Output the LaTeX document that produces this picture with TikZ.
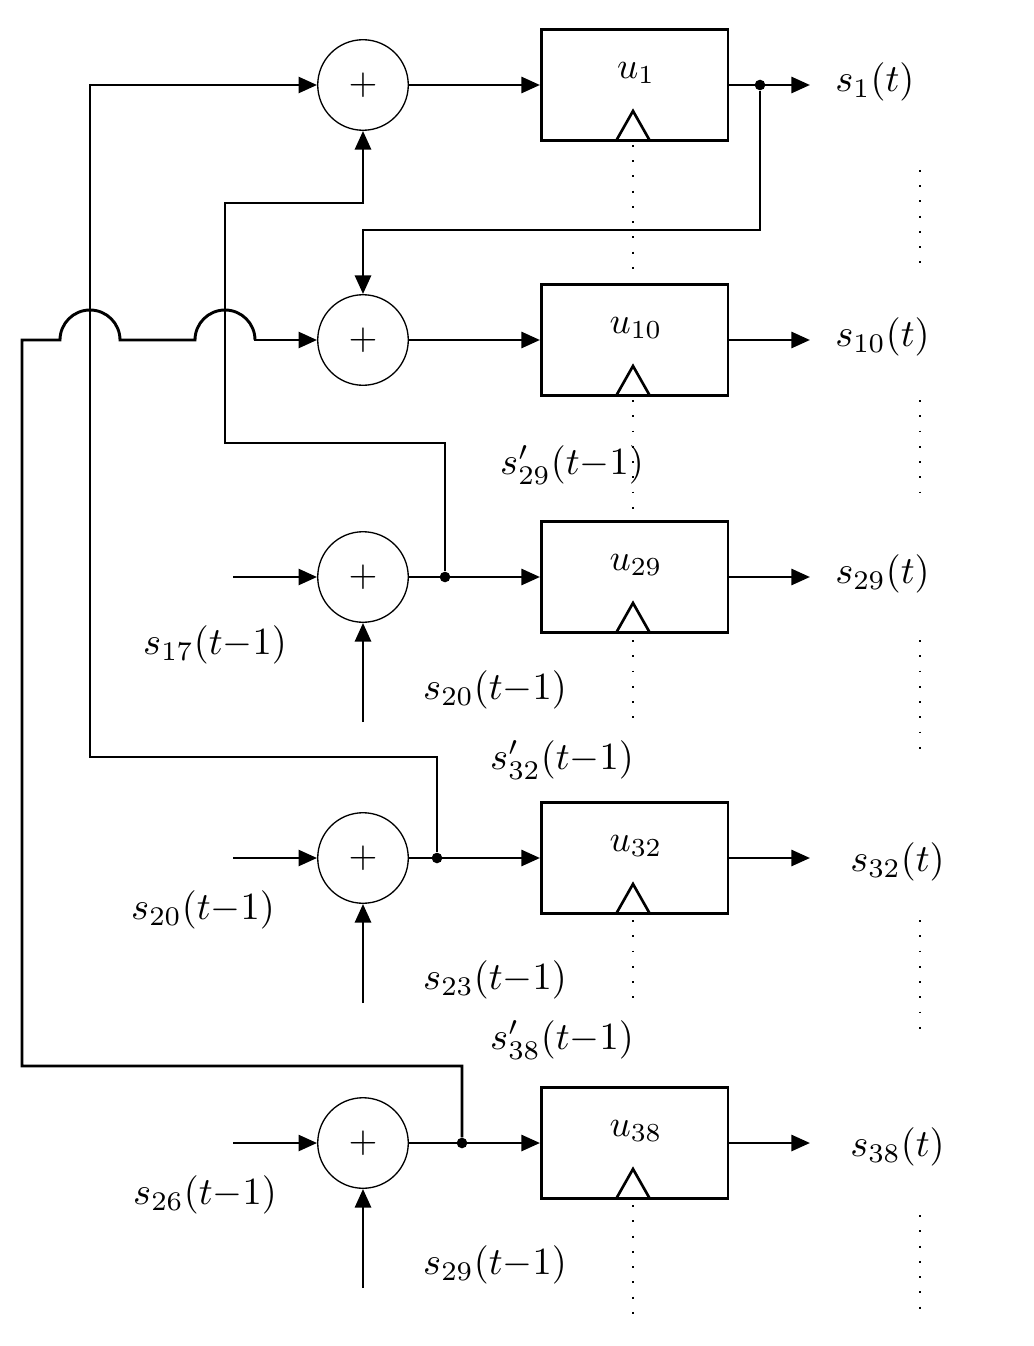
\documentclass[tikz,border=0pt]{standalone}
\usetikzlibrary{arrows.meta}
\usepackage{graphicx}
\newcommand\biglbl[1]{\scalebox{2.9}{$#1$}}
\begin{document}
\begin{tikzpicture}[x=0.0265cm,y=-0.0265cm,
 ln/.style={line width=2.2pt},
 ar/.style={ln,-{Triangle[length=14pt,width=12pt]}},
 add/.style={circle,draw,line width=1pt,minimum size=2.4cm,inner sep=0pt},
 box/.style={draw,line width=2pt,minimum width=4.95cm,minimum height=2.95cm,inner sep=0pt},
 lbl/.style={inner sep=0pt},
 dt/.style={line width=1.5pt,dash pattern=on 1.5pt off 10pt},
 dot/.style={circle,fill,inner sep=0pt,minimum size=8pt}]
\useasboundingbox (0,0) rectangle (1033,1346);
\foreach \n/\y/\s in {1/85/1,2/340/10,3/577/29,4/858/32,5/1143/38}{
  \node[add] (a\n) at (363,\y) {\scalebox{2.8}{$+$}};
  \node[box,anchor=west] (b\n) at (540,\y) {};
  \node[lbl] at (636,\y-12) {\scalebox{2.8}{$u_{\s}$}};
  \draw[line width=2pt] (616,\y+56) -- (633,\y+26) -- (650,\y+56);
  \draw[ar] (a\n) -- (b\n);
}
\foreach \n/\y in {1/85,2/340,3/577,4/858,5/1143}{\coordinate (o\n) at (810,\y); \draw[ar] (b\n.east) -- (o\n);}
\node[lbl,anchor=west] at (835,82) {\biglbl{s_1(t)}};
\node[lbl,anchor=west] at (835,337) {\biglbl{s_{10}(t)}};
\node[lbl,anchor=west] at (835,574) {\biglbl{s_{29}(t)}};
\node[lbl,anchor=west] at (850,862) {\biglbl{s_{32}(t)}};
\node[lbl,anchor=west] at (850,1147) {\biglbl{s_{38}(t)}};
\node[dot] (d1) at (760,85) {};
\draw[ln] (d1) -- (760,230) -- (363,230);
\draw[ar] (363,229) -- (a2.north);
\draw[ar] (90,85) -- (a1.west);
\node[dot] (d4) at (437,858) {};
\draw[ln] (90,84) -- (90,757) -- (437,757) -- (d4);
\draw[ar] (363,203) -- (a1.south);
\node[dot] (d3) at (445,577) {};
\draw[ln] (364,203) -- (225,203) -- (225,443) -- (445,443) -- (d3);
\node[dot] (d5) at (462,1143) {};
\draw[ln] (d5) -- (462,1066) -- (22,1066) -- (22,340) -- (60,340) arc[start angle=180,end angle=360,radius=30] -- (195,340) arc[start angle=180,end angle=360,radius=30] -- (255,340);
\draw[ar] (254,340) -- (a2.west);
\foreach \n/\y in {3/577,4/858,5/1143}{
 \draw[ar] (233,\y) -- (a\n.west);
 \draw[ar] (363,\y+145) -- (a\n.south);
}
\node[lbl] at (215,645) {\biglbl{s_{17}(t{-}1)}};
\node[lbl] at (495,690) {\biglbl{s_{20}(t{-}1)}};
\node[lbl] at (572,465) {\biglbl{s_{29}'(t{-}1)}};
\node[lbl] at (562,760) {\biglbl{s_{32}'(t{-}1)}};
\node[lbl] at (203,910) {\biglbl{s_{20}(t{-}1)}};
\node[lbl] at (495,980) {\biglbl{s_{23}(t{-}1)}};
\node[lbl] at (562,1040) {\biglbl{s_{38}'(t{-}1)}};
\node[lbl] at (205,1195) {\biglbl{s_{26}(t{-}1)}};
\node[lbl] at (495,1265) {\biglbl{s_{29}(t{-}1)}};
\foreach \a/\b in {145/280,400/515,640/720,920/1000,1205/1320}{\draw[dt] (633,\a) -- (633,\b);}
\foreach \a/\b in {170/275,400/505,640/750,920/1030,1215/1320}{\draw[dt] (920,\a) -- (920,\b);}
\end{tikzpicture}
\end{document}
